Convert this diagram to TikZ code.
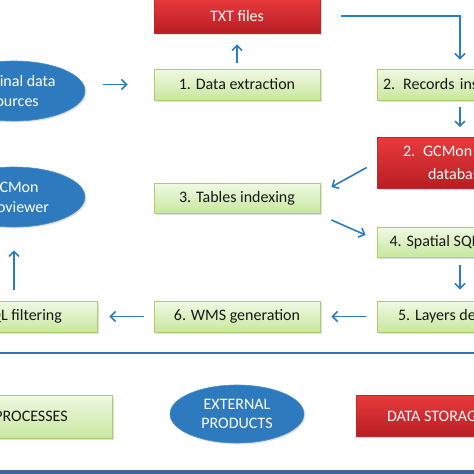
\documentclass[tikz,border=0pt]{standalone}
\usepackage{fontspec}
\setmainfont{Carlito}
\usetikzlibrary{shadows,arrows.meta,calc,shapes.geometric}
\definecolor{arrblue}{RGB}{43,124,192}
\definecolor{ellblue}{RGB}{46,122,190}
\definecolor{lineblue}{RGB}{47,117,181}
\definecolor{bandblue}{RGB}{59,103,151}
\definecolor{gtop}{RGB}{240,249,228}
\definecolor{gbot}{RGB}{200,231,158}
\definecolor{gborder}{RGB}{172,206,112}
\definecolor{rtop}{RGB}{232,58,60}
\definecolor{rbot}{RGB}{184,30,36}
\definecolor{rborder}{RGB}{190,40,44}
\tikzset{
  procbox/.style={rectangle, top color=gtop, bottom color=gbot, draw=gborder, line width=0.8pt,
    minimum width=166pt, inner sep=0pt, font=\fontsize{16}{19}\selectfont, text=black!90,
    drop shadow={opacity=0.25, shadow xshift=1.5pt, shadow yshift=-1.5pt}},
  storebox/.style={rectangle, top color=rtop, bottom color=rbot, draw=rborder, line width=0.6pt,
    minimum width=166pt, inner sep=0pt, font=\fontsize{16}{19}\selectfont, text=white, align=center,
    drop shadow={opacity=0.25, shadow xshift=1.5pt, shadow yshift=-1.5pt}},
  extell/.style={ellipse, fill=ellblue, draw=ellblue!85!white, line width=0.6pt,
    minimum width=142pt, minimum height=60pt, inner sep=0pt, text=white, align=center,
    font=\fontsize{16}{20}\selectfont,
    drop shadow={opacity=0.2, shadow xshift=1.5pt, shadow yshift=-1.5pt}},
  arr/.style={draw=arrblue, line width=1.6pt, -{Straight Barb[length=5pt,width=10pt,line width=1.6pt]}},
}
\begin{document}
\begin{tikzpicture}[x=1pt,y=-1pt]
\useasboundingbox (0,0) rectangle (474,474);
\clip (0,0) rectangle (474,474);
\fill[white] (0,0) rectangle (474,474);
% nodes
\node[storebox, minimum height=34pt] (txt) at (237,16) {TXT files};
\node[procbox, minimum height=31pt] (n1) at (237,84.5) {1. Data extraction};
\node[procbox, minimum height=31pt, text width=154pt, align=left] (n2) at (460,84.5) {2. Records insertion};
\node[storebox, minimum height=51pt, text width=114pt, align=left, font=\fontsize{16}{23}\selectfont] (db) at (460,163) {2. GCMon\\\hspace*{25pt}database};
\node[procbox, minimum height=30pt] (n3) at (237,198) {3. Tables indexing};
\node[procbox, minimum height=30pt] (n4) at (460,242) {4. Spatial SQL queries};
\node[procbox, minimum height=31pt] (n5) at (460,316.5) {5. Layers definition};
\node[procbox, minimum height=31pt] (n6) at (237,316.5) {6. WMS generation};
\node[procbox, minimum height=31pt] (n7) at (14,316.5) {7. SQL filtering};
\node[extell] (src) at (14,91) {Original data\\sources};
\node[extell] (view) at (14,197) {GCMon\\Geoviewer};
% arrows
\draw[arr, shorten <=18pt, shorten >=26pt] (src.east |- n1.west) -- (n1.west);
\draw[arr, shorten <=6pt, shorten >=11pt] (n1.north) -- (txt.south);
\draw[arr, shorten <=21pt, shorten >=9pt] (txt.east) -| (n2.north);
\draw[arr, shorten <=7pt, shorten >=10pt] (n2.south) -- (db.north);
\draw[arr] ($(db.west)+(-10,4.5)$) -- ($(n3.east)+(11,-11)$);
\draw[arr] ($(n3.east)+(11,22)$) -- ($(n4.west)+(-11,-7)$);
\draw[arr, shorten <=8pt, shorten >=11pt] (n4.south) -- (n5.north);
\draw[arr, shorten <=11pt, shorten >=11pt] (n5.west) -- (n6.east);
\draw[arr, shorten <=10pt, shorten >=12pt] (n6.west) -- (n7.east);
\draw[arr, shorten <=11pt, shorten >=23pt] (n7.north) -- (n7.north |- view.south);
% separator
\coordinate (sepL) at (0,353);
\coordinate (sepR) at (474,353);
\draw[lineblue, line width=1.8pt] (sepL) -- (sepR);
% legend
\node[procbox, minimum width=162pt, minimum height=43pt] (lp) at (31,416.5) {PROCESSES};
\node[extell, minimum width=134pt, minimum height=58pt, font=\fontsize{16}{19}\selectfont] (le) at (237,414) {EXTERNAL\\PRODUCTS};
\node[storebox, minimum width=160pt, minimum height=41pt] (ls) at (436,416) {DATA STORAGE};
% bottom band
\fill[bandblue] (0,470) rectangle (474,474);
\end{tikzpicture}
\end{document}
